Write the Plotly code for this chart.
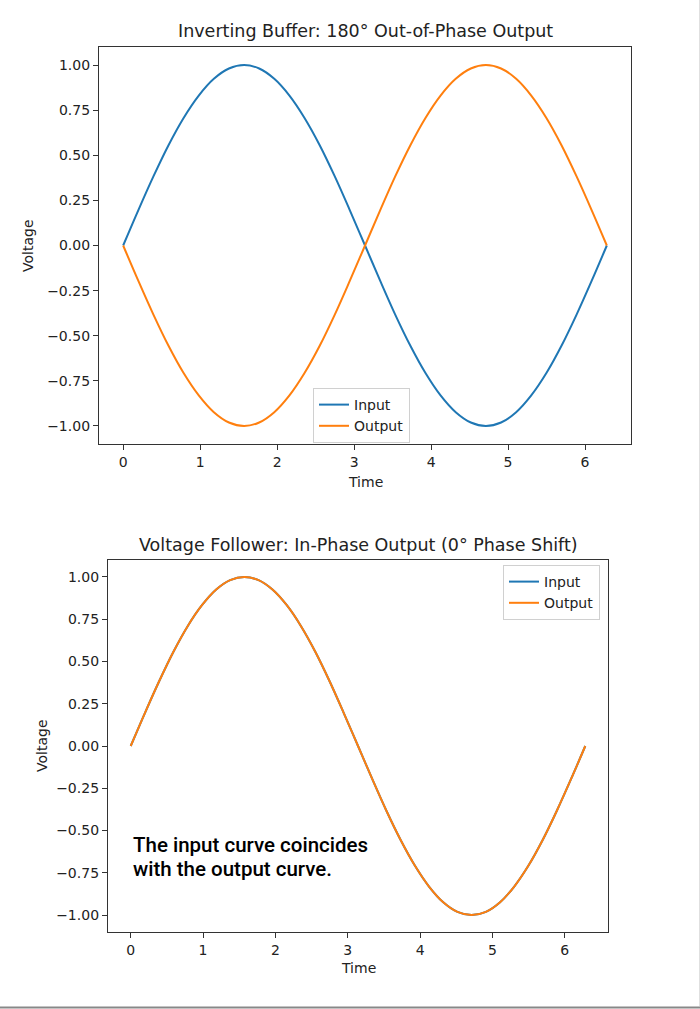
import plotly.graph_objects as go

# ---- data ----
time = [0.000, 0.196, 0.393, 0.589, 0.785, 0.982, 1.178, 1.374, 1.571, 1.767, 1.963,
        2.160, 2.356, 2.553, 2.749, 2.945, 3.142, 3.338, 3.534, 3.731, 3.927, 4.123,
        4.320, 4.516, 4.712, 4.909, 5.105, 5.301, 5.498, 5.694, 5.890, 6.087, 6.283]
inv_input = [0.00, 0.195, 0.383, 0.556, 0.707, 0.831, 0.924, 0.981, 1.00, 0.981, 0.924,
             0.831, 0.707, 0.556, 0.383, 0.195, 0.00, -0.195, -0.383, -0.556, -0.707, -0.831,
             -0.924, -0.981, -1.00, -0.981, -0.924, -0.831, -0.707, -0.556, -0.383, -0.195, 0.00]
inv_output = [0.00, -0.195, -0.383, -0.556, -0.707, -0.831, -0.924, -0.981, -1.00, -0.981, -0.924,
              -0.831, -0.707, -0.556, -0.383, -0.195, 0.00, 0.195, 0.383, 0.556, 0.707, 0.831,
              0.924, 0.981, 1.00, 0.981, 0.924, 0.831, 0.707, 0.556, 0.383, 0.195, 0.00]
fol_input = [0.00, 0.195, 0.383, 0.556, 0.707, 0.831, 0.924, 0.981, 1.00, 0.981, 0.924,
             0.831, 0.707, 0.556, 0.383, 0.195, 0.00, -0.195, -0.383, -0.556, -0.707, -0.831,
             -0.924, -0.981, -1.00, -0.981, -0.924, -0.831, -0.707, -0.556, -0.383, -0.195, 0.00]
fol_output = [0.00, 0.195, 0.383, 0.556, 0.707, 0.831, 0.924, 0.981, 1.00, 0.981, 0.924,
              0.831, 0.707, 0.556, 0.383, 0.195, 0.00, -0.195, -0.383, -0.556, -0.707, -0.831,
              -0.924, -0.981, -1.00, -0.981, -0.924, -0.831, -0.707, -0.556, -0.383, -0.195, 0.00]
x_ticks = [0, 1, 2, 3, 4, 5, 6]
y_ticks = [-1.0, -0.75, -0.5, -0.25, 0.0, 0.25, 0.5, 0.75, 1.0]
note_lines = ["The input curve coincides", "with the output curve."]

BLUE = "#1f77b4"
ORANGE = "#ff7f0e"
FONT = "DejaVu Sans"
W, H = 700, 1009

def px_x(p):
    return p / W

def px_y(p):
    return 1 - p / H

fig = go.Figure()
fig.add_trace(go.Scatter(x=time, y=inv_input, name="Input", mode="lines", line=dict(color=BLUE, width=2, shape="spline"),
                         xaxis="x", yaxis="y", legend="legend"))
fig.add_trace(go.Scatter(x=time, y=inv_output, name="Output", mode="lines", line=dict(color=ORANGE, width=2, shape="spline"),
                         xaxis="x", yaxis="y", legend="legend"))
fig.add_trace(go.Scatter(x=time, y=fol_input, name="Input", mode="lines", line=dict(color=BLUE, width=2, shape="spline"),
                         xaxis="x2", yaxis="y2", legend="legend2"))
fig.add_trace(go.Scatter(x=time, y=fol_output, name="Output", mode="lines", line=dict(color=ORANGE, width=2, shape="spline"),
                         xaxis="x2", yaxis="y2", legend="legend2"))

axis_common = dict(showline=True, mirror=True, linecolor="#333333", linewidth=1.3, ticks="outside",
                   ticklen=5, tickwidth=1, tickcolor="#333333", showgrid=False, zeroline=False,
                   tickfont=dict(family=FONT, size=14, color="#222222"))

xr = [-0.314, 6.597]
yr = [-1.1, 1.1]

legend_common = dict(xanchor="left", yanchor="top", bgcolor="rgba(255,255,255,0.85)",
                     bordercolor="#d0d0d0", borderwidth=1, font=dict(family=FONT, size=14, color="#222222"),
                     itemwidth=30, tracegroupgap=0)

fig.update_layout(
    width=W, height=H, margin=dict(l=0, r=0, t=0, b=0),
    paper_bgcolor="white", plot_bgcolor="white",
    xaxis=dict(domain=[px_x(99), px_x(631)], range=xr, tickvals=x_ticks, anchor="y", **axis_common),
    yaxis=dict(domain=[px_y(444), px_y(47)], range=yr, tickvals=y_ticks, tickformat=".2f", anchor="x", **axis_common),
    xaxis2=dict(domain=[px_x(108), px_x(608)], range=xr, tickvals=x_ticks, anchor="y2", **axis_common),
    yaxis2=dict(domain=[px_y(932), px_y(560)], range=yr, tickvals=y_ticks, tickformat=".2f", anchor="x2", **axis_common),
    legend=dict(x=px_x(313), y=px_y(388), **legend_common),
    legend2=dict(x=px_x(503), y=px_y(565), **legend_common),
    showlegend=True,
)

ann = []
def text(x, y, s, size, angle=0, xanchor="center", yanchor="middle", family=FONT, color="#222222",
         align="center", weight="normal"):
    ann.append(dict(x=px_x(x), y=px_y(y), xref="paper", yref="paper", text=s, showarrow=False,
                    xanchor=xanchor, yanchor=yanchor, textangle=angle, align=align,
                    font=dict(family=family, size=size, color=color, weight=weight)))

text(365, 31, "Inverting Buffer: 180° Out-of-Phase Output", 17.5)
text(358, 545, "Voltage Follower: In-Phase Output (0° Phase Shift)", 17.5)
text(28, 246, "Voltage", 14, angle=-90)
text(42, 746, "Voltage", 14, angle=-90)
text(365, 482, "Time", 14)
text(358, 968, "Time", 14)
text(131, 845, note_lines[0], 20.5, xanchor="left", family="Roboto", color="black", align="left", weight=500)
text(131, 869, note_lines[1], 20.5, xanchor="left", family="Roboto", color="black", align="left", weight=500)
fig.update_layout(annotations=ann)

fig.add_shape(type="line", xref="paper", yref="paper", x0=0, x1=1, y0=px_y(1007.5), y1=px_y(1007.5),
              line=dict(color="#888888", width=2))
fig.add_shape(type="line", xref="paper", yref="paper", x0=px_x(699.5), x1=px_x(699.5), y0=px_y(1006), y1=1,
              line=dict(color="#e0e0e0", width=1))

fig.write_html("out.html")
